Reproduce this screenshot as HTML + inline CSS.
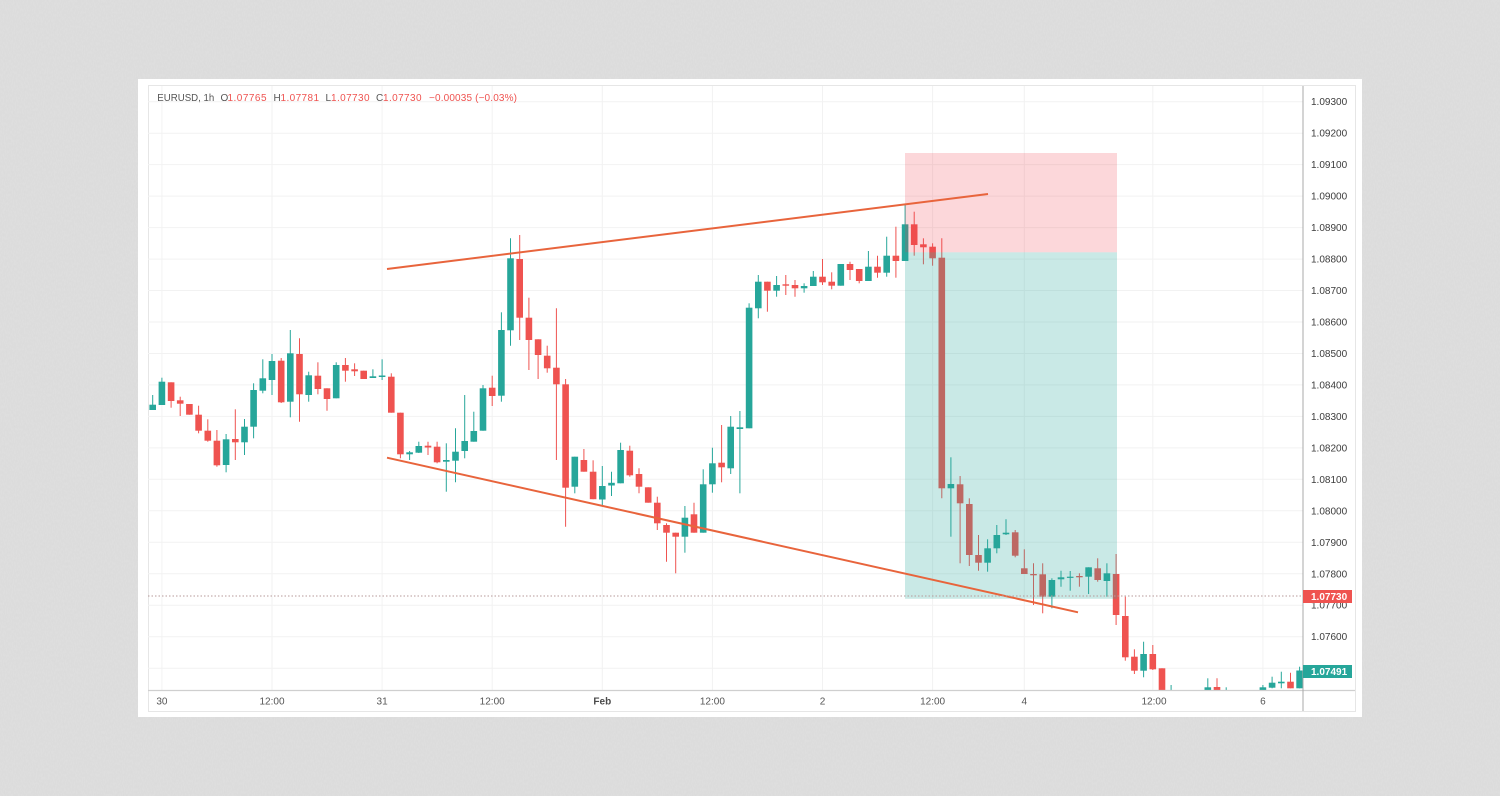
<!DOCTYPE html>
<html><head><meta charset="utf-8"><style>
html,body{margin:0;padding:0;background:#e2e2e2;}
svg{display:block;}
text{font-family:"Liberation Sans",Arial,sans-serif;}
</style></head><body>
<svg width="1500" height="796" viewBox="0 0 1500 796" xmlns="http://www.w3.org/2000/svg">
<defs>
<filter id="paper" x="0" y="0" width="100%" height="100%">
<feTurbulence type="fractalNoise" baseFrequency="0.9 0.35" numOctaves="2" seed="3" result="n"/>
<feColorMatrix type="matrix" values="0 0 0 0 0.5  0 0 0 0 0.5  0 0 0 0 0.5  0 0 0 0.18 0"/>
</filter>
<clipPath id="plot"><rect x="148" y="86" width="1155" height="604"/></clipPath>
</defs>
<rect x="0" y="0" width="1500" height="796" fill="#e0e0e0"/>
<rect x="0" y="0" width="1500" height="796" filter="url(#paper)"/>
<rect x="138" y="79" width="1224" height="638" fill="#ffffff"/>
<rect x="148.5" y="85.5" width="1207" height="626" fill="#ffffff" stroke="#e6e6e6" stroke-width="1"/>
<g stroke="#f2f2f2" stroke-width="1">
<line x1="148" x2="1303" y1="101.7" y2="101.7"/><line x1="148" x2="1303" y1="133.2" y2="133.2"/><line x1="148" x2="1303" y1="164.6" y2="164.6"/><line x1="148" x2="1303" y1="196.1" y2="196.1"/><line x1="148" x2="1303" y1="227.6" y2="227.6"/><line x1="148" x2="1303" y1="259.1" y2="259.1"/><line x1="148" x2="1303" y1="290.5" y2="290.5"/><line x1="148" x2="1303" y1="322.0" y2="322.0"/><line x1="148" x2="1303" y1="353.5" y2="353.5"/><line x1="148" x2="1303" y1="384.9" y2="384.9"/><line x1="148" x2="1303" y1="416.4" y2="416.4"/><line x1="148" x2="1303" y1="447.9" y2="447.9"/><line x1="148" x2="1303" y1="479.3" y2="479.3"/><line x1="148" x2="1303" y1="510.8" y2="510.8"/><line x1="148" x2="1303" y1="542.3" y2="542.3"/><line x1="148" x2="1303" y1="573.8" y2="573.8"/><line x1="148" x2="1303" y1="605.2" y2="605.2"/><line x1="148" x2="1303" y1="636.7" y2="636.7"/><line x1="148" x2="1303" y1="668.2" y2="668.2"/>
<line x1="161.9" x2="161.9" y1="86" y2="690"/><line x1="272" x2="272" y1="86" y2="690"/><line x1="382.1" x2="382.1" y1="86" y2="690"/><line x1="492.2" x2="492.2" y1="86" y2="690"/><line x1="602.3" x2="602.3" y1="86" y2="690"/><line x1="712.4" x2="712.4" y1="86" y2="690"/><line x1="822.5" x2="822.5" y1="86" y2="690"/><line x1="932.6" x2="932.6" y1="86" y2="690"/><line x1="1024.3" x2="1024.3" y1="86" y2="690"/><line x1="1152.8" x2="1152.8" y1="86" y2="690"/><line x1="1262.9" x2="1262.9" y1="86" y2="690"/>
</g>
<g clip-path="url(#plot)">
<g fill="#26a69a" stroke="#26a69a" stroke-width="1">
<line x1="152.7" x2="152.7" y1="395" y2="410"/><rect x="149.4" y="404.7" width="6.6" height="5.3" stroke="none"/>
<line x1="161.9" x2="161.9" y1="377.7" y2="405"/><rect x="158.6" y="381.7" width="6.6" height="23.3" stroke="none"/>
<line x1="226.1" x2="226.1" y1="434" y2="472.3"/><rect x="222.8" y="439.3" width="6.6" height="25.7" stroke="none"/>
<line x1="244.5" x2="244.5" y1="419" y2="455"/><rect x="241.2" y="426.7" width="6.6" height="15.6" stroke="none"/>
<line x1="253.6" x2="253.6" y1="383.3" y2="438.3"/><rect x="250.3" y="390" width="6.6" height="36.7" stroke="none"/>
<line x1="262.8" x2="262.8" y1="359.3" y2="393.3"/><rect x="259.5" y="378.3" width="6.6" height="12.4" stroke="none"/>
<line x1="272" x2="272" y1="354" y2="395"/><rect x="268.7" y="361" width="6.6" height="19" stroke="none"/>
<line x1="290.3" x2="290.3" y1="330" y2="417.3"/><rect x="287" y="353.3" width="6.6" height="48.4" stroke="none"/>
<line x1="308.7" x2="308.7" y1="371.7" y2="401.7"/><rect x="305.4" y="375.3" width="6.6" height="19.7" stroke="none"/>
<line x1="336.2" x2="336.2" y1="362.3" y2="398.3"/><rect x="332.9" y="365" width="6.6" height="33.3" stroke="none"/>
<line x1="372.9" x2="372.9" y1="369.3" y2="378"/><rect x="369.6" y="376.3" width="6.6" height="1.7" stroke="none"/>
<line x1="382.1" x2="382.1" y1="359.3" y2="380"/><rect x="378.8" y="375.5" width="6.6" height="1.5" stroke="none"/>
<line x1="409.6" x2="409.6" y1="451" y2="460"/><rect x="406.3" y="452.3" width="6.6" height="2" stroke="none"/>
<line x1="418.8" x2="418.8" y1="441.7" y2="453"/><rect x="415.5" y="446" width="6.6" height="6.7" stroke="none"/>
<line x1="446.3" x2="446.3" y1="443.3" y2="491.7"/><rect x="443" y="460" width="6.6" height="1.7" stroke="none"/>
<line x1="455.5" x2="455.5" y1="428.3" y2="482.3"/><rect x="452.2" y="451.7" width="6.6" height="9" stroke="none"/>
<line x1="464.7" x2="464.7" y1="395" y2="458.3"/><rect x="461.4" y="441" width="6.6" height="10" stroke="none"/>
<line x1="473.8" x2="473.8" y1="411.7" y2="441.7"/><rect x="470.5" y="431" width="6.6" height="10.7" stroke="none"/>
<line x1="483" x2="483" y1="385" y2="430.7"/><rect x="479.7" y="388.3" width="6.6" height="42.4" stroke="none"/>
<line x1="501.4" x2="501.4" y1="312.3" y2="401.7"/><rect x="498.1" y="330" width="6.6" height="65.7" stroke="none"/>
<line x1="510.5" x2="510.5" y1="238.3" y2="345.7"/><rect x="507.2" y="258.3" width="6.6" height="72" stroke="none"/>
<line x1="574.8" x2="574.8" y1="456.7" y2="493.3"/><rect x="571.5" y="456.7" width="6.6" height="30" stroke="none"/>
<line x1="602.3" x2="602.3" y1="466" y2="505"/><rect x="599" y="486" width="6.6" height="13.5" stroke="none"/>
<line x1="611.5" x2="611.5" y1="471.7" y2="496"/><rect x="608.2" y="482.8" width="6.6" height="2.7" stroke="none"/>
<line x1="620.6" x2="620.6" y1="442.7" y2="483.3"/><rect x="617.3" y="450" width="6.6" height="33.3" stroke="none"/>
<line x1="684.9" x2="684.9" y1="506" y2="552.7"/><rect x="681.6" y="517.7" width="6.6" height="19" stroke="none"/>
<line x1="703.2" x2="703.2" y1="469.3" y2="532.7"/><rect x="699.9" y="484.3" width="6.6" height="48.4" stroke="none"/>
<line x1="712.4" x2="712.4" y1="447.7" y2="492.7"/><rect x="709.1" y="463.3" width="6.6" height="21" stroke="none"/>
<line x1="730.7" x2="730.7" y1="416" y2="474"/><rect x="727.4" y="426.7" width="6.6" height="41.6" stroke="none"/>
<line x1="739.9" x2="739.9" y1="411" y2="493.3"/><rect x="736.6" y="427.3" width="6.6" height="1.7" stroke="none"/>
<line x1="749.1" x2="749.1" y1="303.3" y2="428.3"/><rect x="745.8" y="307.7" width="6.6" height="120.6" stroke="none"/>
<line x1="758.3" x2="758.3" y1="275" y2="318.3"/><rect x="755" y="281.7" width="6.6" height="26.6" stroke="none"/>
<line x1="776.6" x2="776.6" y1="276" y2="296.7"/><rect x="773.3" y="285" width="6.6" height="5.7" stroke="none"/>
<line x1="804.1" x2="804.1" y1="283.3" y2="292.7"/><rect x="800.8" y="286" width="6.6" height="2.3" stroke="none"/>
<line x1="813.3" x2="813.3" y1="271" y2="286"/><rect x="810" y="276.7" width="6.6" height="9.3" stroke="none"/>
<line x1="840.8" x2="840.8" y1="264" y2="285.7"/><rect x="837.5" y="264" width="6.6" height="21.7" stroke="none"/>
<line x1="868.4" x2="868.4" y1="251" y2="281"/><rect x="865.1" y="266.7" width="6.6" height="14.3" stroke="none"/>
<line x1="886.7" x2="886.7" y1="236.7" y2="276.7"/><rect x="883.4" y="255.7" width="6.6" height="17" stroke="none"/>
<line x1="905.1" x2="905.1" y1="205" y2="261"/><rect x="901.8" y="224.3" width="6.6" height="36.7" stroke="none"/>
<line x1="950.9" x2="950.9" y1="457.3" y2="536.7"/><rect x="947.6" y="484" width="6.6" height="4.3" stroke="none"/>
<line x1="987.6" x2="987.6" y1="539.3" y2="571.7"/><rect x="984.3" y="548.3" width="6.6" height="14.4" stroke="none"/>
<line x1="996.8" x2="996.8" y1="525" y2="553.3"/><rect x="993.5" y="535" width="6.6" height="13.3" stroke="none"/>
<line x1="1006" x2="1006" y1="519.3" y2="535"/><rect x="1002.7" y="532.7" width="6.6" height="1.6" stroke="none"/>
<line x1="1051.9" x2="1051.9" y1="578.3" y2="608.3"/><rect x="1048.6" y="580" width="6.6" height="16.7" stroke="none"/>
<line x1="1061" x2="1061" y1="570.7" y2="586.7"/><rect x="1057.7" y="577.3" width="6.6" height="2" stroke="none"/>
<line x1="1070.2" x2="1070.2" y1="571" y2="590.7"/><rect x="1066.9" y="576.7" width="6.6" height="1.2" stroke="none"/>
<line x1="1088.6" x2="1088.6" y1="567.3" y2="594"/><rect x="1085.3" y="567.3" width="6.6" height="9.4" stroke="none"/>
<line x1="1106.9" x2="1106.9" y1="563.3" y2="596.7"/><rect x="1103.6" y="573.3" width="6.6" height="7.7" stroke="none"/>
<line x1="1143.6" x2="1143.6" y1="641.7" y2="677.3"/><rect x="1140.3" y="654" width="6.6" height="16.7" stroke="none"/>
<line x1="1171.1" x2="1171.1" y1="685" y2="700"/>
<line x1="1207.8" x2="1207.8" y1="678.3" y2="700"/><rect x="1204.5" y="687.3" width="6.6" height="12.7" stroke="none"/>
<line x1="1226.2" x2="1226.2" y1="687.3" y2="700"/>
<line x1="1262.9" x2="1262.9" y1="685" y2="700"/><rect x="1259.6" y="687.3" width="6.6" height="12.7" stroke="none"/>
<line x1="1272.1" x2="1272.1" y1="676.7" y2="688.3"/><rect x="1268.8" y="682.7" width="6.6" height="5" stroke="none"/>
<line x1="1281.3" x2="1281.3" y1="671.7" y2="688.3"/><rect x="1278" y="681.7" width="6.6" height="1.6" stroke="none"/>
<line x1="1299.6" x2="1299.6" y1="666.7" y2="688.3"/><rect x="1296.3" y="670.5" width="6.6" height="17.8" stroke="none"/>
</g>
<g fill="#ef5350" stroke="#ef5350" stroke-width="1">
<line x1="171.1" x2="171.1" y1="382.3" y2="407.7"/><rect x="167.8" y="382.3" width="6.6" height="18.7" stroke="none"/>
<line x1="180.2" x2="180.2" y1="396.7" y2="416"/><rect x="176.9" y="400.3" width="6.6" height="3.4" stroke="none"/>
<line x1="189.4" x2="189.4" y1="404" y2="414.7"/><rect x="186.1" y="404" width="6.6" height="10.7" stroke="none"/>
<line x1="198.6" x2="198.6" y1="405.7" y2="433.3"/><rect x="195.3" y="414.7" width="6.6" height="16" stroke="none"/>
<line x1="207.8" x2="207.8" y1="419.3" y2="441.7"/><rect x="204.5" y="430.7" width="6.6" height="10" stroke="none"/>
<line x1="216.9" x2="216.9" y1="430" y2="466.7"/><rect x="213.6" y="440.7" width="6.6" height="24.6" stroke="none"/>
<line x1="235.3" x2="235.3" y1="409.3" y2="460"/><rect x="232" y="439" width="6.6" height="3.3" stroke="none"/>
<line x1="281.2" x2="281.2" y1="358" y2="403"/><rect x="277.9" y="360.7" width="6.6" height="41.6" stroke="none"/>
<line x1="299.5" x2="299.5" y1="338.3" y2="421.7"/><rect x="296.2" y="354" width="6.6" height="40.3" stroke="none"/>
<line x1="317.9" x2="317.9" y1="362.3" y2="394.3"/><rect x="314.6" y="375.7" width="6.6" height="13.3" stroke="none"/>
<line x1="327" x2="327" y1="388.3" y2="410.7"/><rect x="323.7" y="388.3" width="6.6" height="10.7" stroke="none"/>
<line x1="345.4" x2="345.4" y1="358" y2="381.7"/><rect x="342.1" y="365" width="6.6" height="5.7" stroke="none"/>
<line x1="354.6" x2="354.6" y1="363.3" y2="376"/><rect x="351.3" y="369.3" width="6.6" height="2" stroke="none"/>
<line x1="363.7" x2="363.7" y1="370.7" y2="379"/><rect x="360.4" y="370.7" width="6.6" height="8.3" stroke="none"/>
<line x1="391.3" x2="391.3" y1="373.3" y2="412.7"/><rect x="388" y="376.7" width="6.6" height="36" stroke="none"/>
<line x1="400.4" x2="400.4" y1="412.7" y2="458.3"/><rect x="397.1" y="412.7" width="6.6" height="41.6" stroke="none"/>
<line x1="428" x2="428" y1="441.7" y2="455"/><rect x="424.7" y="445.7" width="6.6" height="1.8" stroke="none"/>
<line x1="437.1" x2="437.1" y1="441.7" y2="463.3"/><rect x="433.8" y="446.7" width="6.6" height="15.6" stroke="none"/>
<line x1="492.2" x2="492.2" y1="375.7" y2="406"/><rect x="488.9" y="387.7" width="6.6" height="8.3" stroke="none"/>
<line x1="519.7" x2="519.7" y1="235" y2="340"/><rect x="516.4" y="259" width="6.6" height="58.7" stroke="none"/>
<line x1="528.9" x2="528.9" y1="297.7" y2="370"/><rect x="525.6" y="317.7" width="6.6" height="22.3" stroke="none"/>
<line x1="538.1" x2="538.1" y1="339.3" y2="379"/><rect x="534.8" y="339.3" width="6.6" height="15.7" stroke="none"/>
<line x1="547.2" x2="547.2" y1="345.7" y2="372.7"/><rect x="543.9" y="355.7" width="6.6" height="12.6" stroke="none"/>
<line x1="556.4" x2="556.4" y1="308.3" y2="460"/><rect x="553.1" y="367.7" width="6.6" height="16.6" stroke="none"/>
<line x1="565.6" x2="565.6" y1="379" y2="526.7"/><rect x="562.3" y="384.3" width="6.6" height="103.4" stroke="none"/>
<line x1="583.9" x2="583.9" y1="449" y2="471.7"/><rect x="580.6" y="460" width="6.6" height="11.7" stroke="none"/>
<line x1="593.1" x2="593.1" y1="460.3" y2="499.2"/><rect x="589.8" y="471.7" width="6.6" height="27.5" stroke="none"/>
<line x1="629.8" x2="629.8" y1="445.7" y2="476.7"/><rect x="626.5" y="450.7" width="6.6" height="24.6" stroke="none"/>
<line x1="639" x2="639" y1="468.3" y2="493.3"/><rect x="635.7" y="474" width="6.6" height="12.7" stroke="none"/>
<line x1="648.2" x2="648.2" y1="487.3" y2="502.7"/><rect x="644.9" y="487.3" width="6.6" height="15.4" stroke="none"/>
<line x1="657.3" x2="657.3" y1="496.7" y2="530"/><rect x="654" y="502.7" width="6.6" height="20.6" stroke="none"/>
<line x1="666.5" x2="666.5" y1="523.3" y2="561.7"/><rect x="663.2" y="525" width="6.6" height="7.7" stroke="none"/>
<line x1="675.7" x2="675.7" y1="532.7" y2="573.3"/><rect x="672.4" y="532.7" width="6.6" height="4" stroke="none"/>
<line x1="694" x2="694" y1="502.7" y2="532.7"/><rect x="690.7" y="514.3" width="6.6" height="18.4" stroke="none"/>
<line x1="721.6" x2="721.6" y1="425" y2="482.3"/><rect x="718.3" y="462.7" width="6.6" height="4.6" stroke="none"/>
<line x1="767.4" x2="767.4" y1="281.7" y2="311.7"/><rect x="764.1" y="281.7" width="6.6" height="9" stroke="none"/>
<line x1="785.8" x2="785.8" y1="275" y2="295"/><rect x="782.5" y="284.3" width="6.6" height="1.4" stroke="none"/>
<line x1="795" x2="795" y1="280" y2="296.7"/><rect x="791.7" y="285" width="6.6" height="3.3" stroke="none"/>
<line x1="822.5" x2="822.5" y1="259" y2="285"/><rect x="819.2" y="276.7" width="6.6" height="5.6" stroke="none"/>
<line x1="831.7" x2="831.7" y1="272.3" y2="289.3"/><rect x="828.4" y="281.7" width="6.6" height="4" stroke="none"/>
<line x1="850" x2="850" y1="261.7" y2="280"/><rect x="846.7" y="264" width="6.6" height="6" stroke="none"/>
<line x1="859.2" x2="859.2" y1="269" y2="283.3"/><rect x="855.9" y="269" width="6.6" height="12" stroke="none"/>
<line x1="877.5" x2="877.5" y1="255.7" y2="277.7"/><rect x="874.2" y="266.7" width="6.6" height="6" stroke="none"/>
<line x1="895.9" x2="895.9" y1="226.7" y2="277.7"/><rect x="892.6" y="255.7" width="6.6" height="5.3" stroke="none"/>
<line x1="914.2" x2="914.2" y1="211.7" y2="255.7"/><rect x="910.9" y="224.3" width="6.6" height="20.7" stroke="none"/>
<line x1="923.4" x2="923.4" y1="238.3" y2="264.3"/><rect x="920.1" y="244.3" width="6.6" height="3" stroke="none"/>
<line x1="932.6" x2="932.6" y1="243.3" y2="265.7"/><rect x="929.3" y="246.7" width="6.6" height="11.6" stroke="none"/>
<line x1="941.8" x2="941.8" y1="238.3" y2="498.3"/><rect x="938.5" y="257.7" width="6.6" height="230.6" stroke="none"/>
<line x1="960.1" x2="960.1" y1="476" y2="563.3"/><rect x="956.8" y="484.3" width="6.6" height="19" stroke="none"/>
<line x1="969.3" x2="969.3" y1="498.3" y2="566"/><rect x="966" y="504" width="6.6" height="51" stroke="none"/>
<line x1="978.5" x2="978.5" y1="535" y2="570.7"/><rect x="975.2" y="555" width="6.6" height="7.7" stroke="none"/>
<line x1="1015.2" x2="1015.2" y1="530" y2="557.3"/><rect x="1011.9" y="532.3" width="6.6" height="23.4" stroke="none"/>
<line x1="1024.3" x2="1024.3" y1="549.3" y2="574"/><rect x="1021" y="568.3" width="6.6" height="5.7" stroke="none"/>
<line x1="1033.5" x2="1033.5" y1="563.3" y2="605"/><rect x="1030.2" y="574" width="6.6" height="1.3" stroke="none"/>
<line x1="1042.7" x2="1042.7" y1="563.3" y2="613.3"/><rect x="1039.4" y="574.3" width="6.6" height="22.4" stroke="none"/>
<line x1="1079.4" x2="1079.4" y1="573.3" y2="586.7"/><rect x="1076.1" y="576" width="6.6" height="1.3" stroke="none"/>
<line x1="1097.7" x2="1097.7" y1="558.3" y2="581.7"/><rect x="1094.4" y="568.3" width="6.6" height="11.7" stroke="none"/>
<line x1="1116.1" x2="1116.1" y1="554" y2="625"/><rect x="1112.8" y="574" width="6.6" height="41" stroke="none"/>
<line x1="1125.3" x2="1125.3" y1="596.7" y2="660.7"/><rect x="1122" y="616" width="6.6" height="41.3" stroke="none"/>
<line x1="1134.4" x2="1134.4" y1="649.3" y2="674"/><rect x="1131.1" y="656.7" width="6.6" height="14" stroke="none"/>
<line x1="1152.8" x2="1152.8" y1="645" y2="670"/><rect x="1149.5" y="654" width="6.6" height="15.3" stroke="none"/>
<line x1="1162" x2="1162" y1="668.3" y2="700"/><rect x="1158.7" y="668.3" width="6.6" height="32" stroke="none"/>
<line x1="1217" x2="1217" y1="678.3" y2="700"/><rect x="1213.7" y="687" width="6.6" height="13" stroke="none"/>
<line x1="1290.5" x2="1290.5" y1="672.7" y2="688.3"/><rect x="1287.2" y="681.7" width="6.6" height="6.6" stroke="none"/>
</g>
<rect x="905" y="153" width="212" height="99.3" fill="rgba(242,54,69,0.2)"/>
<rect x="905" y="252.3" width="212" height="346.5" fill="rgba(38,166,154,0.25)"/>
<line x1="387" y1="269" x2="988" y2="194" stroke="#e8643c" stroke-width="2"/>
<line x1="387" y1="457.7" x2="1078" y2="612.3" stroke="#e8643c" stroke-width="2"/>
<line x1="148" y1="596" x2="1303" y2="596" stroke="#b79a9a" stroke-width="1" stroke-dasharray="1.5,2"/>
</g>
<line x1="148" y1="690.5" x2="1355" y2="690.5" stroke="#cfcfcf" stroke-width="1.2"/>
<line x1="1303" y1="86" x2="1303" y2="711" stroke="#a8a8a8" stroke-width="1"/>
<g font-size="10" fill="#3c3c3c">
<text x="1311" y="105.2">1.09300</text>
<text x="1311" y="136.7">1.09200</text>
<text x="1311" y="168.1">1.09100</text>
<text x="1311" y="199.6">1.09000</text>
<text x="1311" y="231.1">1.08900</text>
<text x="1311" y="262.6">1.08800</text>
<text x="1311" y="294">1.08700</text>
<text x="1311" y="325.5">1.08600</text>
<text x="1311" y="357">1.08500</text>
<text x="1311" y="388.4">1.08400</text>
<text x="1311" y="419.9">1.08300</text>
<text x="1311" y="451.4">1.08200</text>
<text x="1311" y="482.8">1.08100</text>
<text x="1311" y="514.3">1.08000</text>
<text x="1311" y="545.8">1.07900</text>
<text x="1311" y="577.3">1.07800</text>
<text x="1311" y="608.7">1.07700</text>
<text x="1311" y="640.2">1.07600</text>
</g>
<rect x="1303" y="590" width="49" height="13" fill="#ef5350"/>
<text x="1311" y="600.2" font-size="10" font-weight="bold" fill="#ffffff">1.07730</text>
<rect x="1303" y="665" width="49" height="13" fill="#26a69a"/>
<text x="1311" y="675.2" font-size="10" font-weight="bold" fill="#ffffff">1.07491</text>
<g font-size="10" fill="#555555" text-anchor="middle">
<text x="161.9" y="704.5">30</text>
<text x="272" y="704.5">12:00</text>
<text x="382.1" y="704.5">31</text>
<text x="492.2" y="704.5">12:00</text>
<text x="602.3" y="704.5" font-weight="bold" fill="#4a4a4a">Feb</text>
<text x="712.4" y="704.5">12:00</text>
<text x="822.5" y="704.5">2</text>
<text x="932.6" y="704.5">12:00</text>
<text x="1024.3" y="704.5">4</text>
<text x="1154" y="704.5">12:00</text>
<text x="1262.9" y="704.5">6</text>
</g>
<g font-size="10">
<text x="157.3" y="101" fill="#555555" textLength="57" lengthAdjust="spacingAndGlyphs">EURUSD, 1h</text>
<text x="220.5" y="101" fill="#555555">O</text>
<text x="227.5" y="101" fill="#ef5350" textLength="39" lengthAdjust="spacing">1.07765</text>
<text x="273.5" y="101" fill="#555555">H</text>
<text x="280.5" y="101" fill="#ef5350" textLength="38.5" lengthAdjust="spacing">1.07781</text>
<text x="325.5" y="101" fill="#555555">L</text>
<text x="331" y="101" fill="#ef5350" textLength="38.5" lengthAdjust="spacing">1.07730</text>
<text x="376" y="101" fill="#555555">C</text>
<text x="383" y="101" fill="#ef5350" textLength="38.5" lengthAdjust="spacing">1.07730</text>
<text x="429" y="101" fill="#ef5350" textLength="88" lengthAdjust="spacing">−0.00035 (−0.03%)</text>
</g>
</svg>
</body></html>
